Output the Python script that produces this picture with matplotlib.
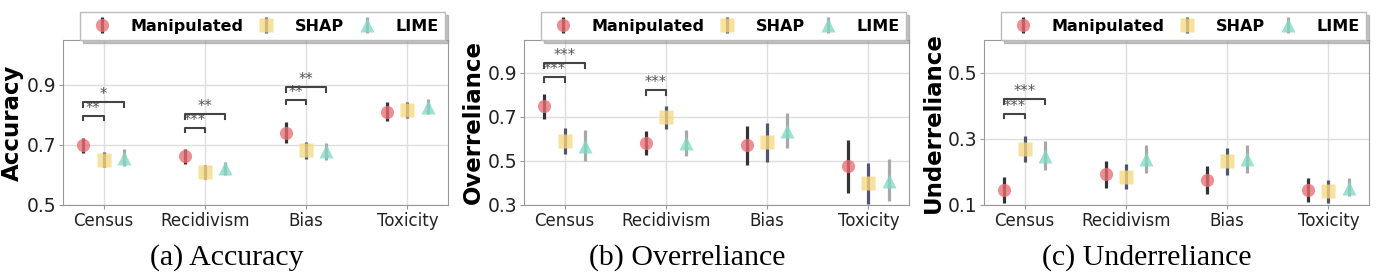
import matplotlib
matplotlib.use("Agg")
import matplotlib.pyplot as plt
import numpy as np

categories = ["Census", "Recidivism", "Bias", "Toxicity"]
methods = ["Manipulated", "SHAP", "LIME"]

# Accuracy: mean, lower, upper for each method
acc_mean = {"Manipulated": [0.700, 0.662, 0.741, 0.811],
            "SHAP":        [0.651, 0.609, 0.683, 0.817],
            "LIME":        [0.657, 0.623, 0.679, 0.827]}
acc_lo = {"Manipulated": [0.674, 0.638, 0.707, 0.780],
          "SHAP":        [0.627, 0.587, 0.655, 0.791],
          "LIME":        [0.629, 0.600, 0.651, 0.803]}
acc_hi = {"Manipulated": [0.725, 0.685, 0.777, 0.842],
          "SHAP":        [0.676, 0.632, 0.711, 0.842],
          "LIME":        [0.688, 0.643, 0.707, 0.853]}

over_mean = {"Manipulated": [0.752, 0.580, 0.572, 0.477],
             "SHAP":        [0.590, 0.699, 0.586, 0.398],
             "LIME":        [0.567, 0.580, 0.636, 0.409]}
over_lo = {"Manipulated": [0.691, 0.527, 0.481, 0.353],
           "SHAP":        [0.530, 0.646, 0.495, 0.303],
           "LIME":        [0.500, 0.525, 0.557, 0.318]}
over_hi = {"Manipulated": [0.806, 0.635, 0.658, 0.595],
           "SHAP":        [0.651, 0.749, 0.673, 0.492],
           "LIME":        [0.643, 0.643, 0.716, 0.507]}

under_mean = {"Manipulated": [0.146, 0.193, 0.176, 0.146],
              "SHAP":        [0.269, 0.186, 0.234, 0.141],
              "LIME":        [0.249, 0.239, 0.239, 0.153]}
under_lo = {"Manipulated": [0.107, 0.153, 0.132, 0.110],
            "SHAP":        [0.229, 0.150, 0.190, 0.105],
            "LIME":        [0.206, 0.198, 0.198, 0.127]}
under_hi = {"Manipulated": [0.185, 0.234, 0.218, 0.183],
            "SHAP":        [0.308, 0.224, 0.274, 0.176],
            "LIME":        [0.294, 0.281, 0.281, 0.183]}

# significance brackets: (category index, method from, method to, y, label)
acc_sig = [(0, 0, 1, 0.797, "**"), (0, 0, 2, 0.842, "*"),
           (1, 0, 1, 0.758, "***"), (1, 0, 2, 0.803, "**"),
           (2, 0, 1, 0.850, "**"), (2, 0, 2, 0.892, "**")]
over_sig = [(0, 0, 1, 0.880, "***"), (0, 0, 2, 0.945, "***"),
            (1, 0, 1, 0.821, "***")]
under_sig = [(0, 0, 1, 0.377, "***"), (0, 0, 2, 0.421, "***")]

ylabels = ["Accuracy", "Overreliance", "Underreliance"]
captions = ["(a) Accuracy", "(b) Overreliance", "(c) Underreliance"]
ylims = [(0.5, 1.05), (0.3, 1.05), (0.1, 0.6)]
yticks = [[0.5, 0.7, 0.9], [0.3, 0.5, 0.7, 0.9], [0.1, 0.3, 0.5]]

markers = {"Manipulated": "o", "SHAP": "s", "LIME": "^"}
face = {"Manipulated": (0.91, 0.43, 0.45, 0.78),
        "SHAP": (0.97, 0.85, 0.50, 0.78),
        "LIME": (0.50, 0.85, 0.77, 0.78)}
ecol = {"Manipulated": "#333333", "SHAP": "#4f566e", "LIME": "#a8a8a8"}
offsets = [-0.2, 0.0, 0.2]

fig = plt.figure(figsize=(13.76, 2.76), dpi=100)
W, H = 1376, 276
ax_px = [(63, 448), (524, 909), (984, 1369)]
top_px, bot_px = 40, 205

datasets = [(acc_mean, acc_lo, acc_hi, acc_sig),
            (over_mean, over_lo, over_hi, over_sig),
            (under_mean, under_lo, under_hi, under_sig)]

x = np.arange(len(categories))
for i, (l, r) in enumerate(ax_px):
    ax = fig.add_axes([l / W, 1 - bot_px / H, (r - l) / W, (bot_px - top_px) / H])
    mean, lo, hi, sig = datasets[i]
    for j, m in enumerate(methods):
        mv = np.array(mean[m]); lv = np.array(lo[m]); hv = np.array(hi[m])
        cont = ax.errorbar(x + offsets[j], mv, yerr=[mv - lv, hv - mv], fmt=markers[m],
                           markersize=9.5, mfc=face[m], mec="none", ecolor=ecol[m],
                           elinewidth=2.3, capsize=0, label=m)
        cont.lines[0].set_zorder(3.5)
        for bl in cont.lines[2]:
            bl.set_zorder(3)
    ymin, ymax = ylims[i]
    h = 0.027 * (ymax - ymin)
    for (c, a, b, yv, lab) in sig:
        x1 = c + offsets[a]; x2 = c + offsets[b]
        ax.plot([x1, x1, x2, x2], [yv - h, yv, yv, yv - h], color="#444444",
                lw=1.5, zorder=4)
        ax.text((x1 + x2) / 2, yv, lab, ha="center", va="bottom",
                fontsize=10.5, color="#555555")
    ax.set_xlim(-0.4, 3.4)
    ax.set_ylim(ymin, ymax)
    ax.set_xticks(x)
    ax.set_xticklabels(categories, fontsize=12)
    ax.set_yticks(yticks[i])
    ax.set_yticklabels([f"{t:.1f}" for t in yticks[i]], fontsize=13.5)
    ax.grid(True, color="#dedede", lw=1)
    ax.set_axisbelow(True)
    for s in ax.spines.values():
        s.set_color("#999999")
    ax.tick_params(length=3, color="#999999", pad=2, labelcolor="#222222")
    ax.set_ylabel(ylabels[i], fontsize=16.5, fontweight="bold", labelpad=2)
    leg = ax.legend(loc="lower right", bbox_to_anchor=(0.992, 1.0),
                    borderaxespad=0, ncol=3, prop={"weight": "bold", "size": 11.5},
                    fancybox=False, shadow={"color": "#9a9a9a", "alpha": 0.6},
                    columnspacing=0.4, handletextpad=0.8, framealpha=1,
                    edgecolor="#bbbbbb")
    fig.text((i * 460 + 227) / W, 1 - 258 / H, captions[i], ha="center", va="center",
             fontsize=21.5, family="Liberation Serif")

fig.savefig("out.png", dpi=100)
